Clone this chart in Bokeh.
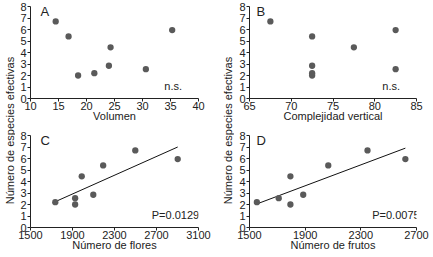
import math
from bokeh.plotting import figure
from bokeh.models import Range1d, ColumnDataSource, Label, FixedTicker
from bokeh.layouts import row, column
from bokeh.embed import file_html
from bokeh.resources import INLINE
from bokeh.core.properties import value

# ---- data ----
especies = [6.7, 5.4, 2.0, 2.2, 2.85, 4.45, 2.55, 5.95]
volumen = [14.5, 16.8, 18.5, 21.4, 24.0, 24.3, 30.6, 35.3]
complejidad = [67.5, 72.5, 72.5, 72.5, 72.5, 77.5, 82.5, 82.5]
flores = [2498, 2192, 1925, 1736, 2098, 1988, 1925, 2902]
frutos = [2348, 2066, 1794, 1553, 1886, 1794, 1710, 2620]

fit_flores_x = [1725, 2902]
fit_flores_y = [2.2, 7.0]
fit_frutos_x = [1553, 2620]
fit_frutos_y = [2.05, 6.9]

y_ticks = [0, 1, 2, 3, 4, 5, 6, 7, 8]
ticks_a = [10, 15, 20, 25, 30, 35, 40]
ticks_b = [65, 70, 75, 80, 85]
ticks_c = [1500, 1900, 2300, 2700, 3100]
ticks_d = [1500, 1900, 2300, 2700]

ylabel = "Número de especies efectivas"

FONT = "Liberation Sans"
TXT = "#222222"
PT = "#5a5a5a"


def panel(xvals, xr, xticks, xlabel, letter, letter_xy, note, note_xy,
          fit=None, width=203, height=129, bl=15, br=20, bt=6, bb=31):
    p = figure(width=width, height=height, output_backend="svg",
               toolbar_location=None,
               x_range=Range1d(*xr), y_range=Range1d(0, 8),
               min_border_left=bl, min_border_right=br,
               min_border_top=bt, min_border_bottom=bb)
    p.outline_line_color = None
    p.grid.visible = False
    p.background_fill_color = "white"
    p.border_fill_color = "white"
    for ax in (p.xaxis[0], p.yaxis[0]):
        ax.axis_line_color = "#222222"
        ax.major_tick_line_color = "#222222"
        ax.major_tick_in = 0
        ax.major_tick_out = 3
        ax.minor_tick_line_color = None
        ax.major_label_text_font = FONT
        ax.major_label_text_font_size = "11px"
        ax.major_label_text_color = TXT
        ax.axis_label_text_font = FONT
        ax.axis_label_text_font_size = "11px"
        ax.axis_label_text_font_style = "normal"
        ax.axis_label_text_color = TXT
    p.xaxis[0].major_label_standoff = 0
    p.xaxis[0].axis_label_standoff = -3
    p.yaxis[0].major_label_standoff = 1
    p.xaxis[0].axis_label = xlabel
    p.xaxis[0].ticker = FixedTicker(ticks=xticks)
    p.yaxis[0].ticker = FixedTicker(ticks=y_ticks)
    if fit is not None:
        p.line(fit[0], fit[1], line_color="#111111", line_width=1)
    src = ColumnDataSource(dict(x=xvals, y=especies))
    p.scatter("x", "y", source=src, size=6.3, fill_color=PT, line_color=None)
    p.add_layout(Label(x=letter_xy[0], y=letter_xy[1], text=letter,
                       text_font=FONT, text_font_size="13px",
                       text_color=TXT, text_baseline="middle"))
    p.add_layout(Label(x=note_xy[0], y=note_xy[1], text=note,
                       text_font=FONT, text_font_size="11px",
                       text_color=TXT, text_baseline="alphabetic"))
    return p


pa = panel(volumen, (10, 40), ticks_a, "Volumen", "A", (11.8, 7.55),
           "n.s.", (33.9, 1.13), width=203, height=129, bl=15, br=20,
           bt=6, bb=31)
pb = panel(complejidad, (65, 85), ticks_b, "Complejidad vertical", "B",
           (65.85, 7.55), "n.s.", (80.9, 1.13),
           width=199, height=129, bl=15, br=17, bt=6, bb=31)
pc = panel(flores, (1500, 3100), ticks_c, "Número de flores", "C",
           (1595, 7.55), "P=0.0129", (2655, 1.13),
           fit=(fit_flores_x, fit_flores_y),
           width=203, height=128, bl=15, br=20, bt=6, bb=30)
pd = panel(frutos, (1500, 2700), ticks_d, "Número de frutos", "D",
           (1550, 7.55), "P=0.0075", (2382, 1.13),
           fit=(fit_frutos_x, fit_frutos_y),
           width=199, height=128, bl=15, br=17, bt=6, bb=30)


def label_fig(width, xpos):
    f = figure(width=width, height=257, output_backend="svg",
               toolbar_location=None,
               x_range=Range1d(0, 1), y_range=Range1d(0, 1), min_border=0)
    f.axis.visible = False
    f.grid.visible = False
    f.outline_line_color = None
    f.text(x=[xpos], y=[0.494], text=[ylabel], angle=math.pi / 2,
           text_font=value(FONT), text_font_size="11px", text_color=TXT,
           text_align="center", text_baseline="middle")
    return f


layout = row(label_fig(15, 0.6), column(pa, pc), label_fig(16, 0.5625),
             column(pb, pd))

with open("out.html", "w") as fh:
    fh.write(file_html(layout, INLINE))
